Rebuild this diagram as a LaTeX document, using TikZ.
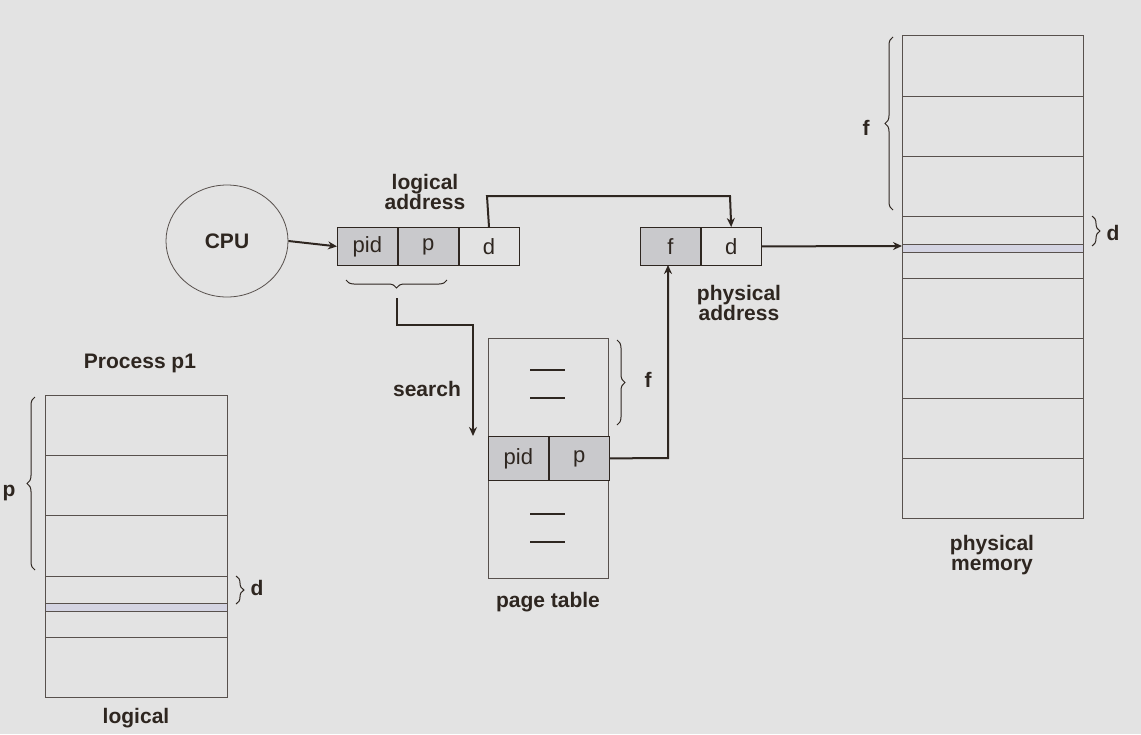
\documentclass[tikz,border=0pt]{standalone}
\usepackage{fontspec}
\setmainfont{Liberation Sans}
\usetikzlibrary{decorations.pathreplacing,arrows.meta,shapes.geometric}
\definecolor{bg}{HTML}{E3E3E3}
\definecolor{cellgray}{HTML}{C9C9CC}
\definecolor{ink}{HTML}{2E2620}
\definecolor{band}{HTML}{D4D4E2}
\begin{document}
\begin{tikzpicture}[x=1pt,y=-1pt,
  lbl/.style={font=\fontsize{21}{24}\selectfont\bfseries, text=ink, align=center},
  cell/.style={draw=ink, line width=0.8pt, minimum width=60pt, minimum height=38pt, inner sep=0pt, font=\fontsize{22}{24}\selectfont, text=ink},
  shaded/.style={cell, fill=cellgray},
  mem/.style={draw=ink!80, line width=0.8pt},
  link/.style={draw=ink, line width=2pt, -{Stealth[length=9pt,width=8pt]}},
  brace/.style={draw=ink, line width=1pt, decorate, decoration={brace,amplitude=8pt}}]
\fill[bg] (0,0) rectangle (1141,734);
\useasboundingbox (0,0) rectangle (1141,734);
% CPU
\node[draw=ink!80, line width=0.8pt, ellipse, minimum width=122pt, minimum height=112pt, lbl] (cpu) at (227,241) {CPU};
% logical address
\node[shaded, anchor=north west] (lpid) at (337,227) {pid};
\node[shaded, anchor=west] (lp) at (lpid.east) {p};
\node[cell, anchor=west] (ld) at (lp.east) {d};
\node[lbl] (laddr) at (425,192) {logical\\[-4pt]address};
% physical address
\node[shaded, anchor=north west] (pf) at (640,227) {f};
\node[cell, anchor=west] (pd) at (pf.east) {d};
\node[lbl] (paddr) at (739,303) {physical\\[-4pt]address};
% page table
\draw[mem] (488,338) rectangle (608,578);
\node[shaded, minimum height=44pt, anchor=north west] (tpid) at (488,436) {pid};
\node[shaded, minimum height=44pt, anchor=west] (tp) at (tpid.east) {p};
\foreach \y in {370,398,514,542} \draw[ink, line width=1.2pt] (530,\y) -- (565,\y);
\draw[brace] (617,340) -- (617,425);
\node[lbl] (tf) at (648,380) {f};
\node[lbl] (ptab) at (548,602) {page table};
% physical memory
\fill[band] (902,244) rectangle (1083,252);
\draw[mem] (902,35) rectangle (1083,518);
\foreach \y in {96,156,216,244,252,278,338,398,458} \draw[mem] (902,\y) -- (1083,\y);
\draw[brace] (893,210) -- (893,37);
\node[lbl] (mf) at (866,128) {f};
\draw[brace] (1092,216) -- (1092,246);
\node[lbl] (md) at (1113,233) {d};
\node[lbl] (pmem) at (992,555) {physical\\[-4pt]memory};
% process p1
\node[lbl] (proc) at (140,363) {Process p1};
\fill[band] (45,603) rectangle (227,611);
\draw[mem] (45,395) rectangle (227,697);
\foreach \y in {455,515,576,603,611,637} \draw[mem] (45,\y) -- (227,\y);
\draw[brace] (35,570) -- (35,397);
\node[lbl] (lp1) at (9,493) {p};
\draw[brace] (236,576) -- (236,604);
\node[lbl] (ld1) at (257,588) {d};
\node[lbl] (logi) at (136,718) {logical};
% connectors
\draw[link] (cpu.east) -- (lpid.west);
\draw[brace] (447,280) -- (346,280);
\coordinate (sb) at (397,298);
\draw[link] (sb) -- (397,325) -- (473,325) -- (473,436);
\node[lbl] (srch) at (427,389) {search};
\draw[link] (ld.north) -- (487,196) -- (730,196) -- (pd.north);
\draw[link] (tp.east) -- (668,458) -- (668,265);
\draw[link] (pd.east) -- (902,246);
\end{tikzpicture}
\end{document}
